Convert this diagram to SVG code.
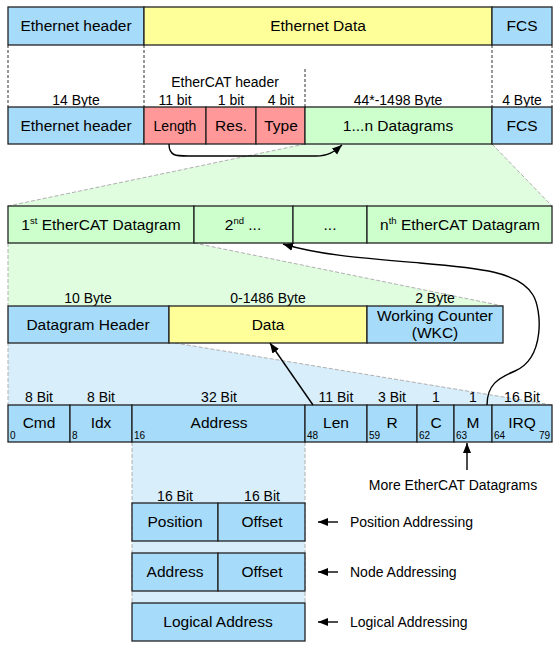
<svg xmlns="http://www.w3.org/2000/svg" width="560" height="648" viewBox="0 0 560 648">
<defs>
<marker id="ah" viewBox="0 0 10 10" refX="10" refY="5" markerWidth="10" markerHeight="10" markerUnits="userSpaceOnUse" orient="auto">
<path d="M0,1 L10,5 L0,9 Z" fill="#000"/>
</marker>
<style>
.box{stroke:#222;stroke-width:1.3}
.blue{fill:#a6dbfa}
.yellow{fill:#ffff99}
.red{fill:#ff9999}
.green{fill:#ccffcc}
.t{font-family:"Liberation Sans",Arial,sans-serif;font-size:15.5px;fill:#000;text-anchor:middle}
.s{font-family:"Liberation Sans",Arial,sans-serif;font-size:14px;fill:#000;text-anchor:middle}
.n{font-family:"Liberation Sans",Arial,sans-serif;font-size:10px;fill:#000}
.l{font-family:"Liberation Sans",Arial,sans-serif;font-size:14px;fill:#000}
.gd{stroke:#b0b0b0;stroke-width:1;stroke-dasharray:4,2;fill:none}
.kd{stroke:#333;stroke-width:1;stroke-dasharray:3,2;fill:none}
.c{stroke:#000;stroke-width:1.4;fill:none}
</style>
</defs>
<rect width="560" height="648" fill="#fff"/>

<g id="regions">
<polygon points="305,144 492,144 552,206 8,206" fill="#e0fde0"/>
<line class="gd" x1="305" y1="144" x2="8" y2="206"/>
<line class="gd" x1="492" y1="144" x2="552" y2="206"/>
<polygon points="8,243 194,243 503,306 8,306" fill="#e0fde0"/>
<line class="gd" x1="194" y1="243" x2="503" y2="306"/>
<line class="gd" x1="8" y1="243" x2="8" y2="306"/>
<polygon points="8,342 169,342 552,405 8,405" fill="#d8eefb"/>
<line class="gd" x1="169" y1="342" x2="552" y2="405"/>
<line class="gd" x1="8" y1="342" x2="8" y2="405"/>
<rect x="132" y="442" width="173" height="161" fill="#d8eefb"/>
<line class="gd" x1="132" y1="442" x2="132" y2="603"/>
<line class="gd" x1="305" y1="442" x2="305" y2="603"/>
<line class="kd" x1="8" y1="45" x2="8" y2="107"/>
<line class="kd" x1="144" y1="45" x2="144" y2="107"/>
<line class="kd" x1="492" y1="45" x2="492" y2="107"/>
<line class="kd" x1="552" y1="45" x2="552" y2="107"/>
<line class="kd" x1="305" y1="69" x2="305" y2="107"/>
</g>

<g id="ethernet-frame">
<rect class="box blue" x="8" y="7" width="136" height="38"/>
<rect class="box yellow" x="144" y="7" width="348" height="38"/>
<rect class="box blue" x="492" y="7" width="60" height="38"/>
<text class="t" x="76" y="31">Ethernet header</text>
<text class="t" x="318" y="31">Ethernet Data</text>
<text class="t" x="522" y="31">FCS</text>
</g>

<g id="ethercat-frame">
<text class="s" x="225" y="87">EtherCAT header</text>
<text class="s" x="76" y="105">14 Byte</text>
<text class="s" x="175" y="105">11 bit</text>
<text class="s" x="231" y="105">1 bit</text>
<text class="s" x="281" y="105">4 bit</text>
<text class="s" x="398" y="105">44*-1498 Byte</text>
<text class="s" x="522" y="105">4 Byte</text>
<rect class="box blue" x="8" y="107" width="136" height="37"/>
<rect class="box red" x="144" y="107" width="62" height="37"/>
<rect class="box red" x="206" y="107" width="50" height="37"/>
<rect class="box red" x="256" y="107" width="49" height="37"/>
<rect class="box green" x="305" y="107" width="187" height="37"/>
<rect class="box blue" x="492" y="107" width="60" height="37"/>
<text class="t" x="76" y="131">Ethernet header</text>
<text class="t" x="175" y="131" style="font-size:14px">Length</text>
<text class="t" x="231" y="131">Res.</text>
<text class="t" x="281" y="131">Type</text>
<text class="t" x="398" y="131">1...n Datagrams</text>
<text class="t" x="522" y="131">FCS</text>
</g>

<g id="datagrams">
<rect class="box green" x="8" y="206" width="186" height="37"/>
<rect class="box green" x="194" y="206" width="99" height="37"/>
<rect class="box green" x="293" y="206" width="74" height="37"/>
<rect class="box green" x="367" y="206" width="185" height="37"/>
<text class="t" x="101" y="230">1<tspan dy="-6" font-size="9.5">st</tspan><tspan dy="6"> EtherCAT Datagram</tspan></text>
<text class="t" x="243" y="230">2<tspan dy="-6" font-size="9.5">nd</tspan><tspan dy="6"> ...</tspan></text>
<text class="t" x="330" y="230">...</text>
<text class="t" x="460" y="230">n<tspan dy="-6" font-size="9.5">th</tspan><tspan dy="6"> EtherCAT Datagram</tspan></text>
</g>

<g id="datagram">
<text class="s" x="88" y="303">10 Byte</text>
<text class="s" x="268" y="303">0-1486 Byte</text>
<text class="s" x="435" y="303">2 Byte</text>
<rect class="box blue" x="8" y="306" width="161" height="37"/>
<rect class="box yellow" x="169" y="306" width="198" height="37"/>
<rect class="box blue" x="367" y="306" width="136" height="37"/>
<text class="t" x="88" y="330">Datagram Header</text>
<text class="t" x="268" y="330">Data</text>
<text class="t" x="435" y="321">Working Counter</text>
<text class="t" x="435" y="338">(WKC)</text>
</g>

<g id="datagram-header">
<text class="s" x="39" y="402">8 Bit</text>
<text class="s" x="101" y="402">8 Bit</text>
<text class="s" x="219" y="402">32 Bit</text>
<text class="s" x="336" y="402">11 Bit</text>
<text class="s" x="392" y="402">3 Bit</text>
<text class="s" x="436" y="402">1</text>
<text class="s" x="473" y="402">1</text>
<text class="s" x="522" y="402">16 Bit</text>
<rect class="box blue" x="8" y="405" width="62" height="37"/>
<rect class="box blue" x="70" y="405" width="62" height="37"/>
<rect class="box blue" x="132" y="405" width="173" height="37"/>
<rect class="box blue" x="305" y="405" width="62" height="37"/>
<rect class="box blue" x="367" y="405" width="50" height="37"/>
<rect class="box blue" x="417" y="405" width="37" height="37"/>
<rect class="box blue" x="454" y="405" width="38" height="37"/>
<rect class="box blue" x="492" y="405" width="60" height="37"/>
<text class="t" x="39" y="428">Cmd</text>
<text class="t" x="101" y="428">Idx</text>
<text class="t" x="219" y="428">Address</text>
<text class="t" x="336" y="428">Len</text>
<text class="t" x="392" y="428">R</text>
<text class="t" x="436" y="428">C</text>
<text class="t" x="473" y="428">M</text>
<text class="t" x="522" y="428">IRQ</text>
<text class="n" x="10" y="439">0</text>
<text class="n" x="72" y="439">8</text>
<text class="n" x="134" y="439">16</text>
<text class="n" x="307" y="439">48</text>
<text class="n" x="369" y="439">59</text>
<text class="n" x="419" y="439">62</text>
<text class="n" x="456" y="439">63</text>
<text class="n" x="494" y="439">64</text>
<text class="n" x="550" y="439" text-anchor="end">79</text>
</g>

<g id="addressing">
<text class="s" x="175" y="501">16 Bit</text>
<text class="s" x="262" y="501">16 Bit</text>
<rect class="box blue" x="132" y="503" width="86" height="38"/>
<rect class="box blue" x="218" y="503" width="87" height="38"/>
<text class="t" x="175" y="527">Position</text>
<text class="t" x="262" y="527">Offset</text>
<rect class="box blue" x="132" y="553" width="86" height="38"/>
<rect class="box blue" x="218" y="553" width="87" height="38"/>
<text class="t" x="175" y="577">Address</text>
<text class="t" x="262" y="577">Offset</text>
<rect class="box blue" x="132" y="603" width="173" height="38"/>
<text class="t" x="218" y="627">Logical Address</text>
<text class="l" x="350" y="527">Position Addressing</text>
<text class="l" x="350" y="577">Node Addressing</text>
<text class="l" x="350" y="627">Logical Addressing</text>
<text class="s" x="453" y="490">More EtherCAT Datagrams</text>
</g>

<g id="connectors">
<path class="c" d="M169,144 C169,156 176,156 188,156 L316,156 C328,156 334,152 342,145" marker-end="url(#ah)"/>
<line class="c" x1="313" y1="405" x2="270" y2="343" marker-end="url(#ah)"/>
<path class="c" d="M487,405 C487,385 498,378 515,371 C545,358 542,310 533,295 C520,272 480,268 420,263 C360,258 320,255 283,244" marker-end="url(#ah)"/>
<line class="c" x1="467" y1="470" x2="467" y2="443" marker-end="url(#ah)"/>
<line class="c" x1="338" y1="522" x2="318" y2="522" marker-end="url(#ah)"/>
<line class="c" x1="338" y1="572" x2="318" y2="572" marker-end="url(#ah)"/>
<line class="c" x1="338" y1="622" x2="318" y2="622" marker-end="url(#ah)"/>
</g>
</svg>
